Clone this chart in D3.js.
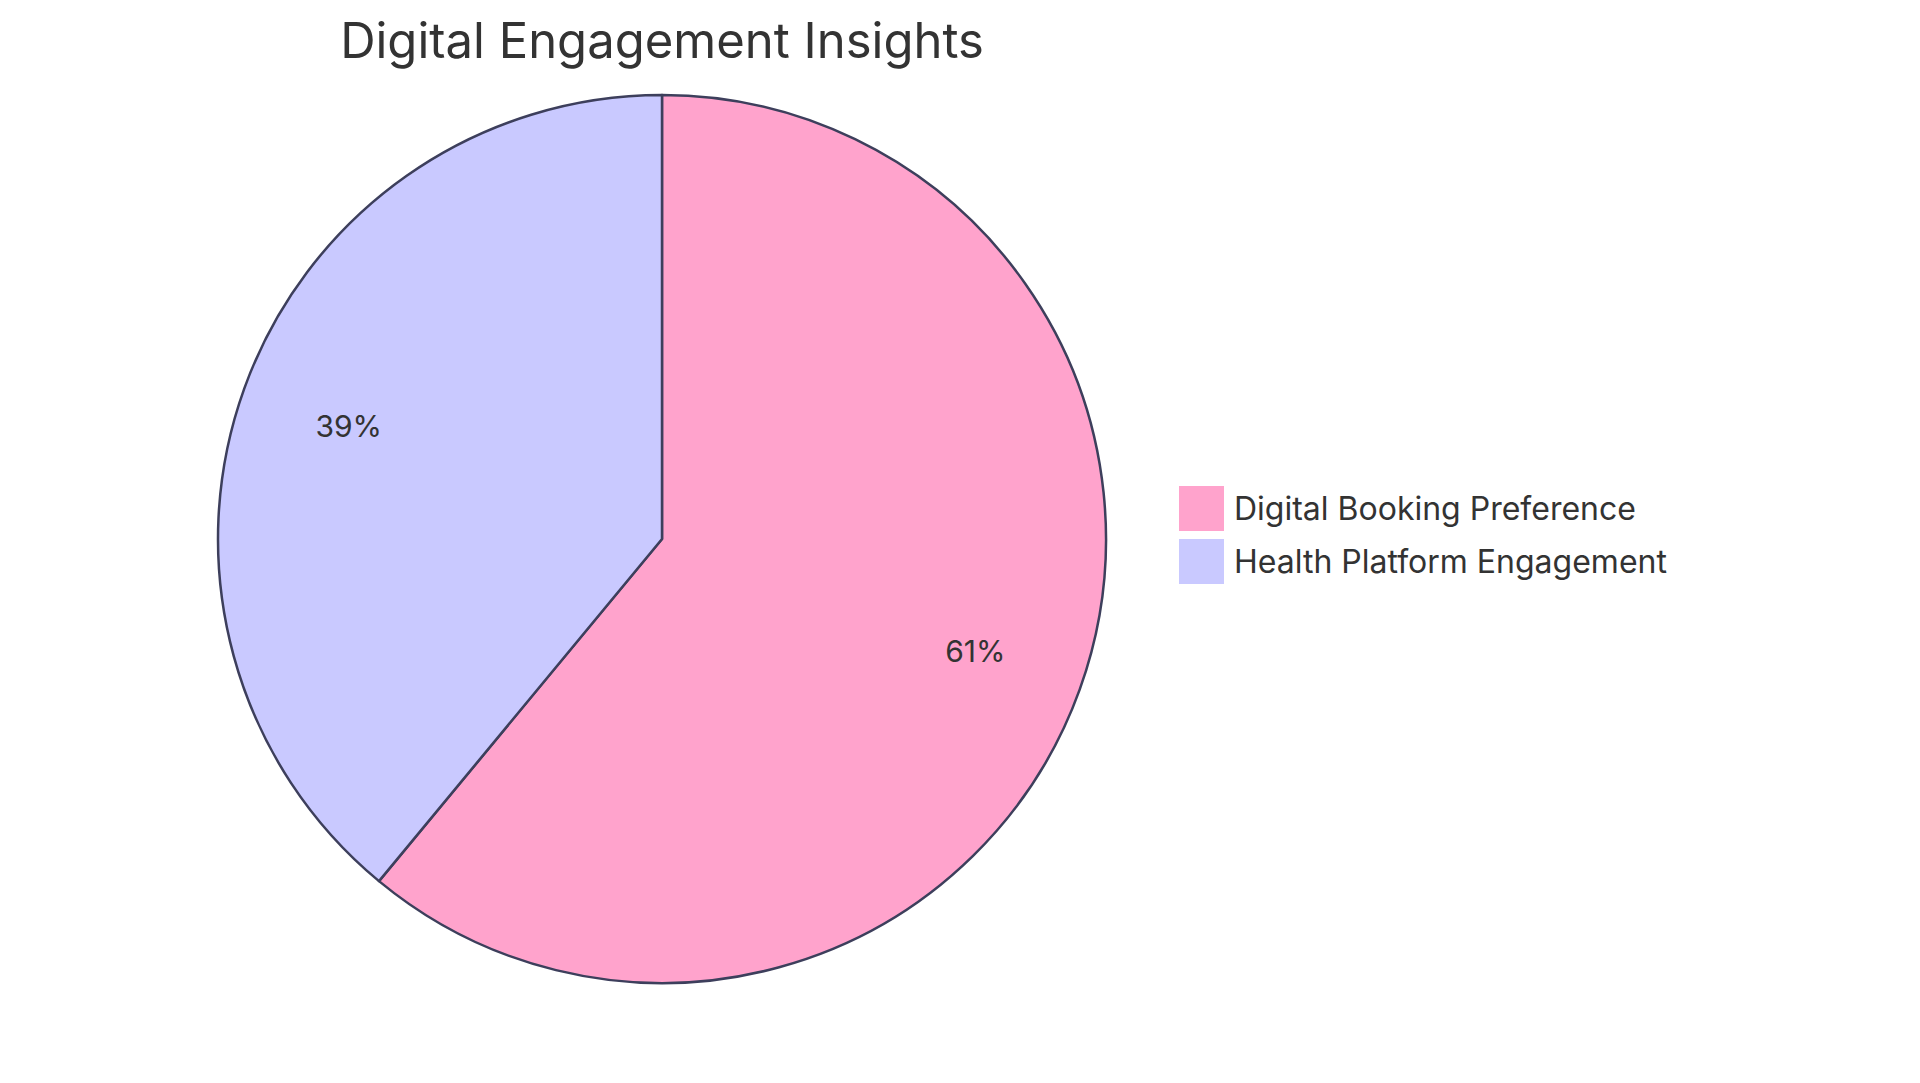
<!DOCTYPE html>
<html><head><meta charset="utf-8">
<script src="https://cdn.jsdelivr.net/npm/d3@7"></script>
<style>body{margin:0;background:#fff}svg{display:block}text{font-family:Inter,"Noto Sans",sans-serif;fill:#333}</style>
</head><body><svg id="chart" width="1920" height="1083"></svg>
<script>
const categories = ['Digital Booking Preference', 'Health Platform Engagement'];
const values = [61, 39];
const colors = ['#FFA3CC', '#C9C9FF'];

const svg = d3.select('#chart');
const cx = 662, cy = 539, r = 444;

svg.append('text').attr('x', cx).attr('y', 58).attr('text-anchor', 'middle')
    .attr('font-size', 49).text('Digital Engagement Insights');

const data = categories.map((c, i) => ({ name: c, value: values[i], color: colors[i] }));
const pie = d3.pie().sort(null).value((d) => d.value);
const arc = d3.arc().innerRadius(0).outerRadius(r);
const labelArc = d3.arc().innerRadius(r * 0.75).outerRadius(r * 0.75);
const total = d3.sum(values);

const g = svg.append('g').attr('transform', `translate(${cx},${cy})`);
const arcs = pie(data);
g.selectAll('path').data(arcs).join('path')
    .attr('d', arc).attr('fill', (d) => d.data.color)
    .attr('stroke', '#3d3f5c').attr('stroke-width', 2.5).attr('stroke-linejoin', 'round');
g.selectAll('text').data(arcs).join('text')
    .attr('transform', (d) => `translate(${labelArc.centroid(d)})`)
    .attr('text-anchor', 'middle').attr('dy', '0.35em').attr('font-size', 30)
    .text((d) => `${Math.round(d.data.value / total * 100)}%`);

const legend = svg.append('g').attr('transform', 'translate(1179,486)');
const item = legend.selectAll('g').data(data).join('g')
    .attr('transform', (d, i) => `translate(0,${i * 53})`);
item.append('rect').attr('width', 45).attr('height', 45).attr('fill', (d) => d.color);
item.append('text').attr('x', 55).attr('y', 23).attr('dy', '0.35em')
    .attr('font-size', 32).text((d) => d.name);
</script></body></html>
